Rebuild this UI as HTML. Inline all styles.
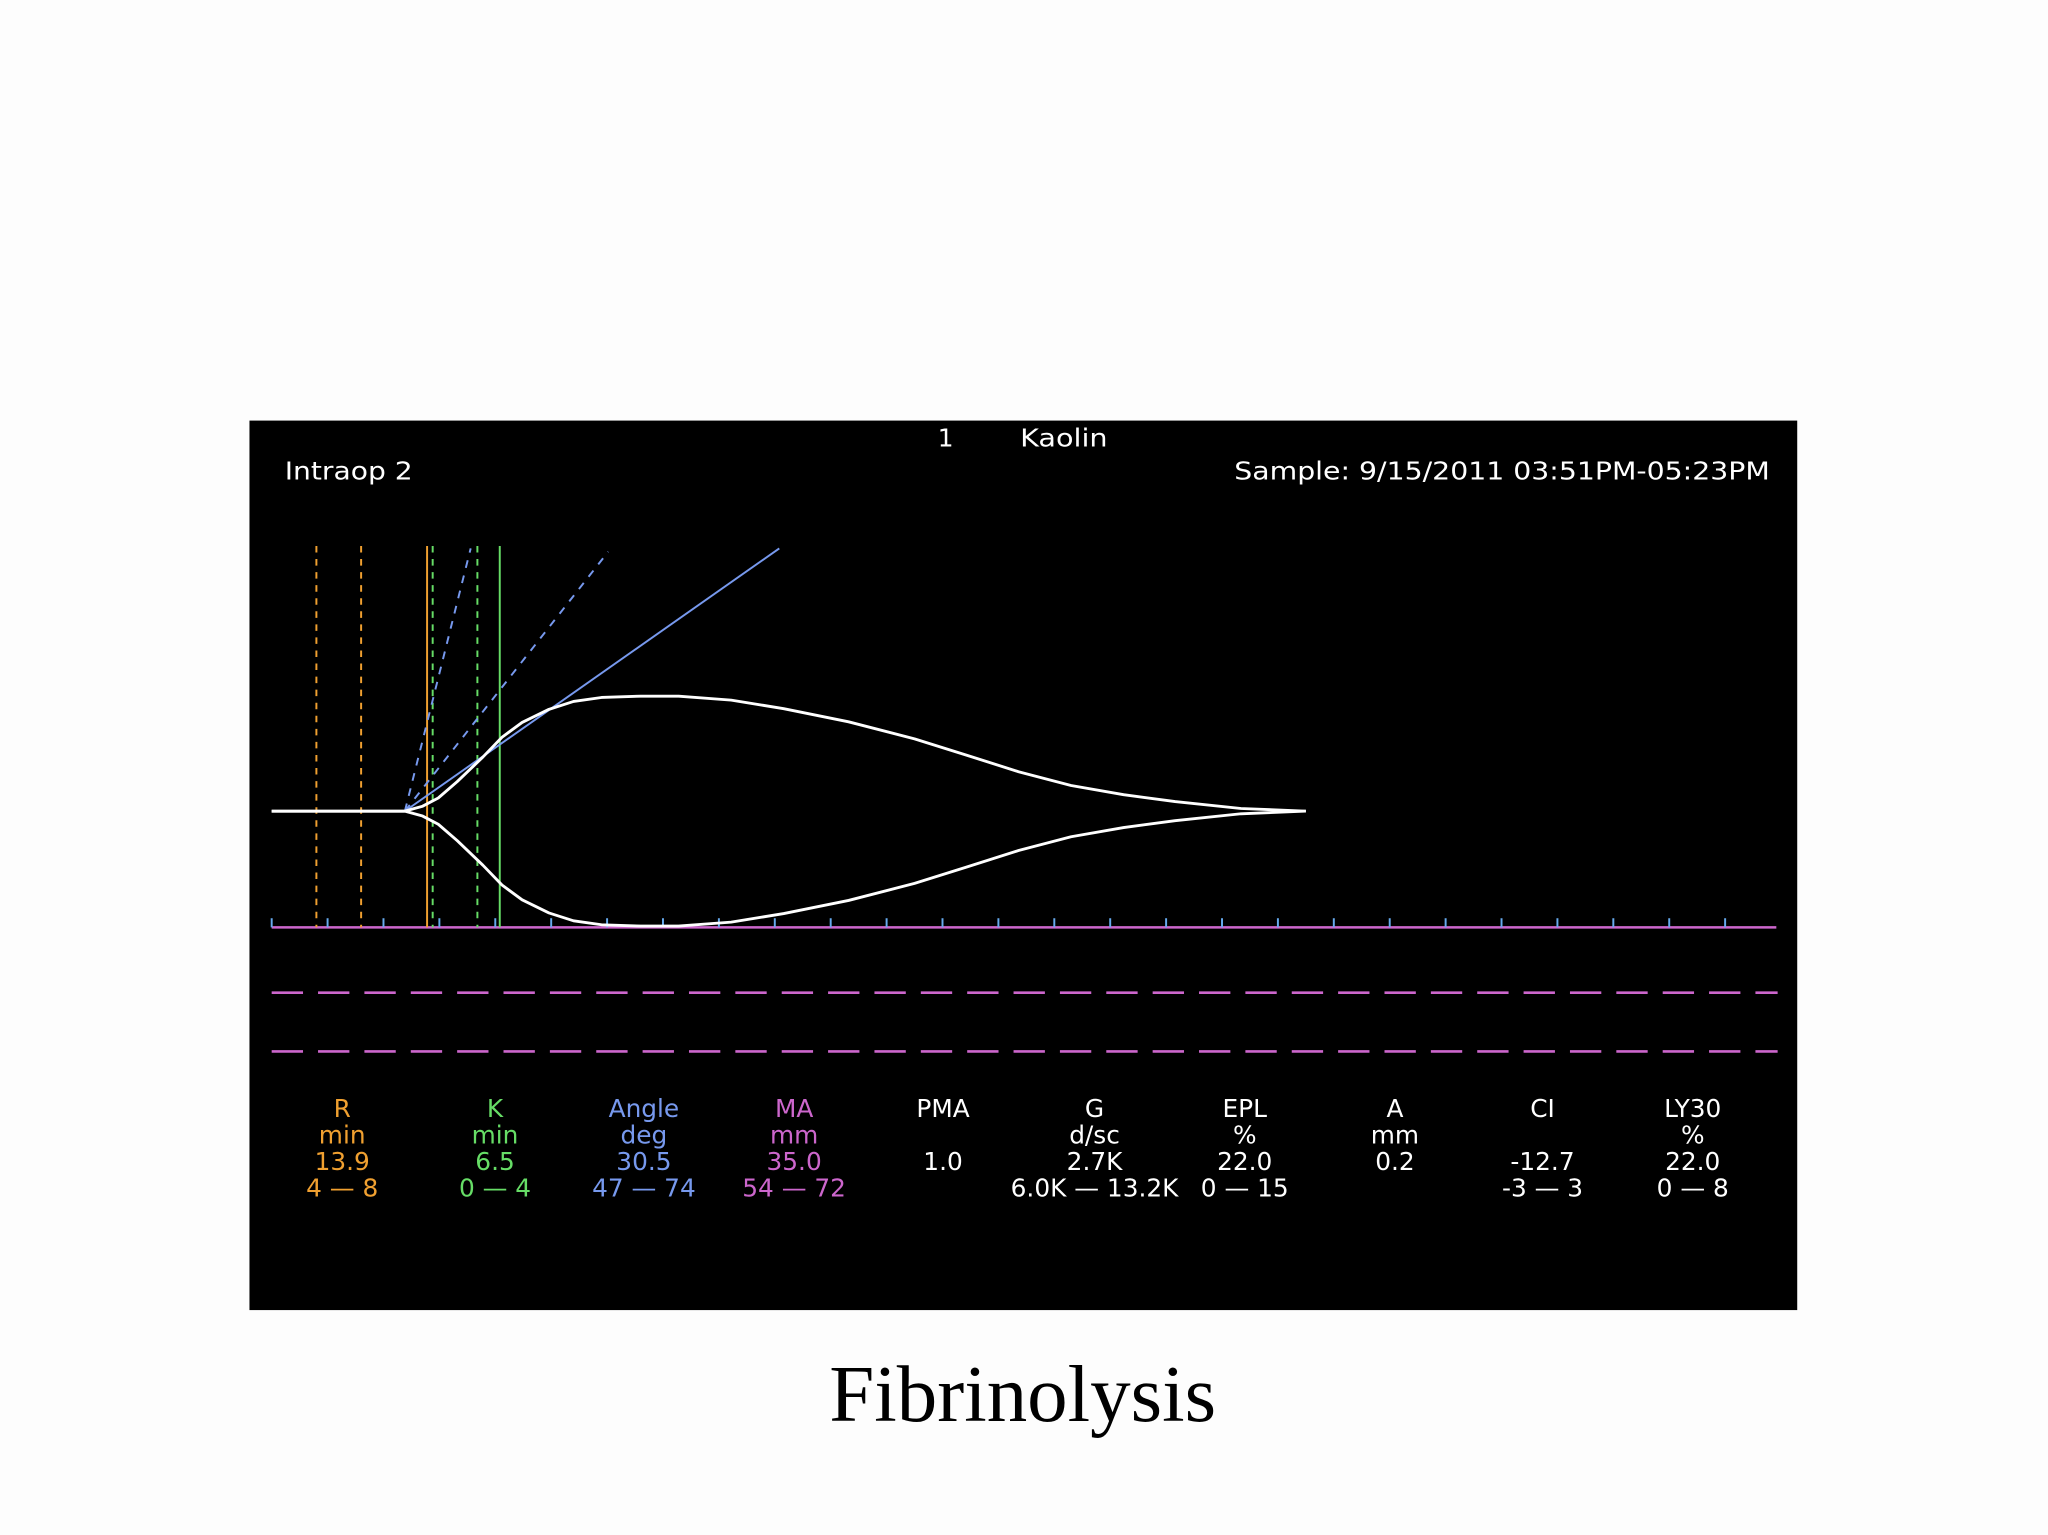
<!DOCTYPE html>
<html><head><meta charset="utf-8"><style>
html,body{margin:0;padding:0;background:#fdfdfd;width:2048px;height:1535px;overflow:hidden}
svg{display:block}
.t{font-family:"DejaVu Sans","Liberation Sans",sans-serif;font-size:19px}
</style></head><body>
<svg id="chart" width="2048" height="1535" viewBox="0 0 1568 1175.2" preserveAspectRatio="none" xmlns="http://www.w3.org/2000/svg">
<rect x="191" y="322" width="1185" height="681" fill="#000"/>
<text class="t" x="724" y="342" fill="#fff" text-anchor="middle">1</text>
<text class="t" x="781" y="342" fill="#fff" textLength="67" lengthAdjust="spacingAndGlyphs">Kaolin</text>
<text class="t" x="218" y="367" fill="#fff" textLength="98" lengthAdjust="spacingAndGlyphs">Intraop 2</text>
<text class="t" x="945" y="367" fill="#fff" textLength="410" lengthAdjust="spacingAndGlyphs">Sample: 9/15/2011 03:51PM-05:23PM</text>
<g id="marks"></g>
<g id="table"></g>
<text x="783" y="1088" font-family="Liberation Serif,serif" font-size="62" fill="#000" text-anchor="middle">Fibrinolysis</text>
</svg>
<script>
const timeMin = [0, 11.9, 13.5, 14.9, 16.6, 18.9, 20.6, 22.4, 24.8, 27.0, 29.5, 33.0, 36.4, 41.1, 45.8, 51.6, 57.5, 62.1, 66.8, 71.5, 76.2, 80.8, 86.7, 92.5];
const amplitudeMm = [0, 0, 1.5, 4.0, 9.0, 16.5, 22.5, 27.0, 31.0, 33.4, 34.6, 35, 35, 33.8, 31.2, 27.2, 22.0, 17.1, 12.0, 7.8, 5.0, 2.9, 0.8, 0];
const refRangeR = [4, 8];
const rValue = 13.9;
const kRange = [0, 4];
const kValue = 6.5;
const angleEndMin = [45.4, 30.1, 17.8];
const angleEndMm = [80, 79, 80];
const tableHeaders = ["R","K","Angle","MA","PMA","G","EPL","A","CI","LY30"];
const tableUnits = ["min","min","deg","mm","","d/sc","%","mm","","%"];
const tableValues = ["13.9","6.5","30.5","35.0","1.0","2.7K","22.0","0.2","-12.7","22.0"];
const tableRanges = ["4 — 8","0 — 4","47 — 74","54 — 72","","6.0K — 13.2K","0 — 15","","-3 — 3","0 — 8"];
const tableColors = ["#f0a030","#66dd66","#7799ee","#cc66cc","#fff","#fff","#fff","#fff","#fff","#fff"];

const NS="http://www.w3.org/2000/svg";
const x0=208, pxPerMin=42.8/5, base=621, pxPerMm=88/35;
const X=m=>x0+m*pxPerMin, Yu=a=>base-a*pxPerMm, Yl=a=>base+a*pxPerMm;
const g=document.getElementById('marks');
function mk(tag,attrs,parent){const e=document.createElementNS(NS,tag);for(const k in attrs)e.setAttribute(k,attrs[k]);(parent||g).appendChild(e);return e;}
let ax=mk('line',{x1:208,y1:710,x2:1360,y2:710,stroke:'#cc66cc','stroke-width':2});


for(let t=0;t<=130;t+=5){let tk=mk('line',{x1:X(t),y1:703,x2:X(t),y2:710,stroke:'#66aaee','stroke-width':1.5});

}
[760,805].forEach(y=>{let d=mk('line',{x1:208,y1:y,x2:1361,y2:y,stroke:'#cc66cc','stroke-width':2,'stroke-dasharray':'24 11.5'});

});
function vline(m,col,dash,name){let l=mk('line',{x1:X(m),y1:418,x2:X(m),y2:710,stroke:col,'stroke-width':1.5});if(dash)l.setAttribute('stroke-dasharray','5 5');

}
refRangeR.forEach(v=>vline(v,'#f0a030',true,'r-range-line'));
vline(rValue,'#f0a030',false,'r-value-line');
kRange.forEach(v=>vline(rValue+v+0.5,'#66dd66',true,'k-range-line'));
vline(rValue+kValue,'#66dd66',false,'k-value-line');
const ox=310, oy=621;
angleEndMin.forEach((m,i)=>{
let l=mk('line',{x1:ox,y1:oy,x2:X(m),y2:Yu(angleEndMm[i]),stroke:'#7799ee','stroke-width':1.5});
if(i>0)l.setAttribute('stroke-dasharray','6 6');

});
let pu='',pl='';
timeMin.forEach((t,i)=>{pu+=(i?'L':'M')+X(t)+' '+Yu(amplitudeMm[i]);pl+=(i?'L':'M')+X(t)+' '+Yl(amplitudeMm[i]);});
let cu=mk('path',{d:pu,fill:'none',stroke:'#fff','stroke-width':2.2,'stroke-linejoin':'round'});


let cl=mk('path',{d:pl,fill:'none',stroke:'#fff','stroke-width':2.2,'stroke-linejoin':'round'});


const tb=document.getElementById('table');
const cx=[262,379,493,608,722,838,953,1068,1181,1296];
[tableHeaders,tableUnits,tableValues,tableRanges].forEach((row,r)=>{row.forEach((s,c)=>{if(!s)return;
let e=mk('text',{x:cx[c],y:855+r*20.3,fill:tableColors[c],'text-anchor':'middle','class':'t'},tb);e.textContent=s;

});});
</script>
</body></html>
